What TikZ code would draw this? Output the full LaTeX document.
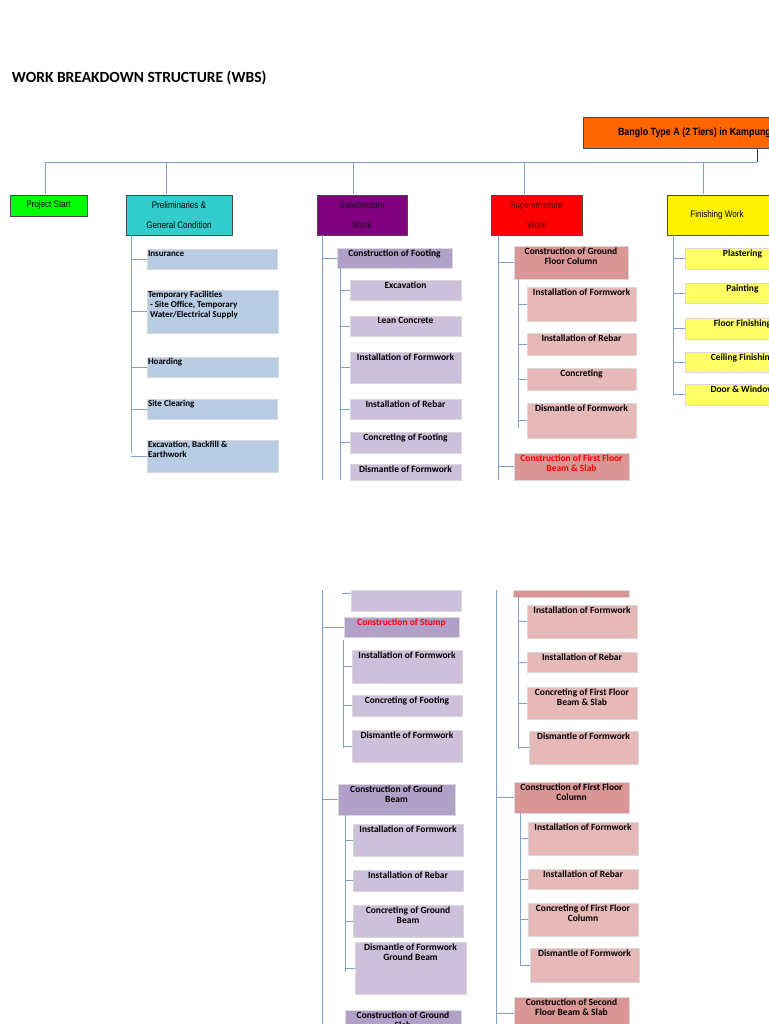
\documentclass[tikz,border=0pt]{standalone}
\usepackage{fontspec}
\setmainfont{Carlito}
\newfontfamily\hdfont[FakeStretch=0.85]{Liberation Sans}
\usepackage{tikz}
\usetikzlibrary{calc}
\definecolor{linkblue}{HTML}{7F9FCF}
\definecolor{rootor}{HTML}{FF6600}
\definecolor{prelim}{HTML}{33CCCC}
\definecolor{subpur}{HTML}{800080}
\definecolor{prebox}{HTML}{B8CCE4}
\definecolor{subhead}{HTML}{B1A0C7}
\definecolor{subbox}{HTML}{CCC0DA}
\definecolor{suphead}{HTML}{DA9694}
\definecolor{supbox}{HTML}{E6B8B7}
\definecolor{finbox}{HTML}{FFFF66}
\newcommand{\wbs}[7]{\node[#6, anchor=north west, minimum width={(#4-#2)*1pt}, minimum height={(#5-#3)*1pt},
  label={[anchor=north, align=center, yshift=-1.5pt, font=\bfseries\fontsize{9.5}{10}\selectfont]north:{#7}}] (#1) at (#2,#3) {};}
\newcommand{\wbsl}[7]{\node[#6, anchor=north west, minimum width={(#4-#2)*1pt}, minimum height={(#5-#3)*1pt},
  label={[anchor=north west, align=left, xshift=1pt, yshift=-1.5pt, font=\bfseries\fontsize{9}{10}\selectfont]north west:{#7}}] (#1) at (#2,#3) {};}
\begin{document}
\begin{tikzpicture}[x=1pt,y=-1pt,
    every node/.style={inner sep=0pt, outer sep=0pt},
    link/.style={draw=linkblue, line width=0.8pt},
    topbox/.style={draw=black!70, line width=0.8pt, font=\hdfont\fontsize{9.5}{20}\selectfont, align=center},
    childbox/.style={draw=black!15, line width=0.5pt}]
\useasboundingbox (0,0) rectangle (768,1024);

% title and root
\node[anchor=west, font=\bfseries\fontsize{15.5}{17}\selectfont] (title) at (12,78) {WORK BREAKDOWN STRUCTURE (WBS)};
\node[topbox, fill=rootor, anchor=north west, minimum width=200pt, minimum height=31pt] (root) at (583,117) {};
\node[anchor=west, font=\hdfont\bfseries\fontsize{10.5}{12}\selectfont] (roottxt) at (618,132.5) {Banglo Type A (2 Tiers) in Kampung};

% level one
\node[topbox, fill=green, anchor=north west, minimum width=77pt, minimum height=21pt] (start) at (10,195) {Project Start};
\node[topbox, fill=prelim, anchor=north west, minimum width=106pt, minimum height=40pt] (prelim) at (126,195) {Preliminaries \&\\General Condition};
\node[topbox, fill=subpur, text=black!80!subpur, anchor=north west, minimum width=90pt, minimum height=40pt] (sub) at (317,195) {Substructure\\Work};
\node[topbox, fill=red, text=black!70!red, anchor=north west, minimum width=91pt, minimum height=40pt] (sup) at (491,195) {Superstructure\\Work};
\node[topbox, fill=yellow, anchor=north west, minimum width=120pt, minimum height=40pt] (fin) at (667,195) {\hspace*{-20pt}Finishing Work};

\coordinate (bus) at (45,162);
\draw[black!80, line width=0.8pt] (757,148) -- (757,162);
\draw[link] (bus) -- (757,162);
\foreach \n/\x in {start/45, prelim/166, sub/353, sup/524, fin/703}
  \draw[link] (\x,162) -- (\x,194);

% preliminaries
\wbsl{ins}{147}{249}{277}{269}{childbox, fill=prebox}{Insurance}
\wbsl{temp}{147}{290}{278}{333}{childbox, fill=prebox}{Temporary Facilities\\\ - Site Office, Temporary\\\ Water/Electrical Supply}
\wbsl{hoard}{147}{357}{278}{377}{childbox, fill=prebox}{Hoarding}
\wbsl{clear}{147}{399}{277}{419}{childbox, fill=prebox}{Site Clearing}
\wbsl{earth}{147}{440}{278}{472}{childbox, fill=prebox}{Excavation, Backfill \&\\Earthwork}
\coordinate (pspine) at (131,235);
\draw[link] (pspine) -- (131,453);
\foreach \n in {ins,temp,hoard,clear,earth}
  \draw[link] (pspine |- \n.west) -- (\n.west);

% substructure, upper part
\wbs{foot}{337}{248}{452}{268}{childbox, fill=subhead}{Construction of Footing}
\wbs{exc}{350}{280}{461}{300}{childbox, fill=subbox}{Excavation}
\wbs{lean}{350}{316}{461}{336}{childbox, fill=subbox}{Lean Concrete}
\wbs{fform}{350}{352}{461}{383}{childbox, fill=subbox}{Installation of Formwork}
\wbs{frebar}{350}{399}{461}{419}{childbox, fill=subbox}{Installation of Rebar}
\wbs{fconc}{350}{432}{461}{453}{childbox, fill=subbox}{Concreting of Footing}
\wbs{fdism}{350}{464}{461}{480}{childbox, fill=subbox}{Dismantle of Formwork}
\coordinate (sspine) at (322,235);
\draw[link] (sspine) -- (322,480);
\draw[link] (sspine |- foot.west) -- (foot.west);
\draw[link] (340,268) -- (340,480);
\foreach \n in {exc,lean,fform,frebar,fconc}
  \draw[link] (340,0 |- \n.west) -- (\n.west);

% superstructure, upper part
\wbs{gcol}{514}{246}{628}{279}{childbox, fill=suphead}{Construction of Ground\\Floor Column}
\wbs{gform}{527}{287}{636}{321}{childbox, fill=supbox}{Installation of Formwork}
\wbs{grebar}{527}{333}{636}{355}{childbox, fill=supbox}{Installation of Rebar}
\wbs{gconc}{527}{368}{636}{390}{childbox, fill=supbox}{Concreting}
\wbs{gdism}{527}{403}{636}{438}{childbox, fill=supbox}{Dismantle of Formwork}
\node[childbox, fill=suphead, anchor=north west, minimum width=115pt, minimum height=27pt,
  label={[anchor=north, align=center, yshift=-2pt, text=red, font=\bfseries\fontsize{9.5}{10}\selectfont]north:{Construction of First Floor\\Beam \& Slab}}] (ffbeam) at (514,453) {};
\coordinate (uspine) at (498,235);
\draw[link] (uspine) -- (498,480);
\foreach \n in {gcol,ffbeam}
  \draw[link] (uspine |- \n.west) -- (\n.west);
\draw[link] (518,279) -- (518,428);
\foreach \n in {gform,grebar,gconc,gdism}
  \draw[link] (518,0 |- \n.west) -- (\n.west);

% finishing
\wbs{plas}{685}{248}{800}{269}{childbox, fill=finbox}{Plastering}
\wbs{paint}{685}{283}{800}{303}{childbox, fill=finbox}{Painting}
\wbs{floor}{685}{318}{800}{339}{childbox, fill=finbox}{Floor Finishing}
\wbs{ceil}{685}{352}{800}{372}{childbox, fill=finbox}{Ceiling Finishing}
\wbs{door}{685}{384}{800}{405}{childbox, fill=finbox}{Door \& Window}
\coordinate (fspine) at (673,235);
\draw[link] (fspine) -- (673,395);
\foreach \n in {plas,paint,floor,ceil,door}
  \draw[link] (fspine |- \n.west) -- (\n.west);

% substructure, lower part
\node[childbox, fill=subbox, anchor=north west, minimum width=110pt, minimum height=21pt] (cont) at (351,590) {};
\node[childbox, fill=subhead, anchor=north west, minimum width=115pt, minimum height=20pt,
  label={[anchor=north, yshift=-2pt, text=red, font=\bfseries\fontsize{9.5}{10}\selectfont]north:{Construction of Stump}}] (stump) at (344,617) {};
\wbs{sform}{352}{650}{462}{683}{childbox, fill=subbox}{Installation of Formwork}
\wbs{sconc}{352}{695}{462}{716}{childbox, fill=subbox}{Concreting of Footing}
\wbs{sdism}{352}{730}{462}{762}{childbox, fill=subbox}{Dismantle of Formwork}
\wbs{gbeam}{338}{784}{455}{815}{childbox, fill=subhead}{Construction of Ground\\Beam}
\wbs{bform}{353}{824}{463}{856}{childbox, fill=subbox}{Installation of Formwork}
\wbs{brebar}{353}{870}{463}{891}{childbox, fill=subbox}{Installation of Rebar}
\wbs{bconc}{353}{905}{463}{937}{childbox, fill=subbox}{Concreting of Ground\\Beam}
\wbs{bdism}{355}{942}{466}{994}{childbox, fill=subbox}{Dismantle of Formwork\\Ground Beam}
\wbs{gslab}{345}{1010}{461}{1040}{childbox, fill=subhead}{Construction of Ground\\Slab}
\coordinate (lspine) at (322,590);
\draw[link] (lspine) -- (322,1024);
\draw[link] (342,593) -- (cont.west |- 0,593);
\foreach \n in {stump,gbeam,gslab}
  \draw[link] (lspine |- \n.west) -- (\n.west);
\draw[link] (343,640) -- (343,748);
\foreach \n in {sform,sconc,sdism}
  \draw[link] (343,0 |- \n.west) -- (\n.west);
\draw[link] (345,815) -- (345,972);
\foreach \n in {bform,brebar,bconc,bdism}
  \draw[link] (345,0 |- \n.west) -- (\n.west);

% superstructure, lower part
\node[childbox, fill=suphead, anchor=north west, minimum width=116pt, minimum height=7pt] (ffcont) at (513,590) {};
\wbs{ffform}{527}{605}{637}{638}{childbox, fill=supbox}{Installation of Formwork}
\wbs{ffrebar}{527}{652}{637}{672}{childbox, fill=supbox}{Installation of Rebar}
\wbs{ffconc}{527}{687}{637}{719}{childbox, fill=supbox}{Concreting of First Floor\\Beam \& Slab}
\wbs{ffdism}{529}{731}{638}{764}{childbox, fill=supbox}{Dismantle of Formwork}
\wbs{fcol}{514}{782}{629}{813}{childbox, fill=suphead}{Construction of First Floor\\Column}
\wbs{cform}{528}{822}{638}{855}{childbox, fill=supbox}{Installation of Formwork}
\wbs{crebar}{528}{869}{638}{889}{childbox, fill=supbox}{Installation of Rebar}
\wbs{cconc}{528}{903}{638}{936}{childbox, fill=supbox}{Concreting of First Floor\\Column}
\wbs{cdism}{530}{948}{639}{982}{childbox, fill=supbox}{Dismantle of Formwork}
\wbs{sfbeam}{514}{997}{629}{1030}{childbox, fill=suphead}{Construction of Second\\Floor Beam \& Slab}
\coordinate (mspine) at (496,590);
\draw[link] (mspine) -- (496,1024);
\foreach \n in {fcol,sfbeam}
  \draw[link] (mspine |- \n.west) -- (\n.west);
\draw[link] (518,597) -- (518,749);
\foreach \n in {ffform,ffrebar,ffconc,ffdism}
  \draw[link] (518,0 |- \n.west) -- (\n.west);
\draw[link] (520,813) -- (520,966);
\foreach \n in {cform,crebar,cconc,cdism}
  \draw[link] (520,0 |- \n.west) -- (\n.west);
\end{tikzpicture}
\end{document}
